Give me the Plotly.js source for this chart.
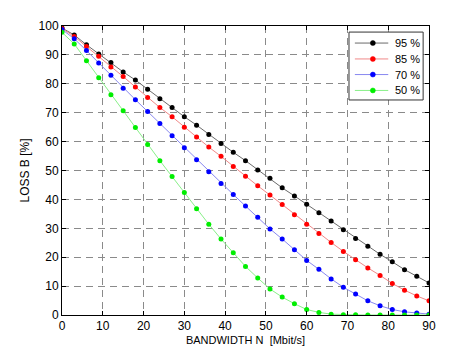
<!DOCTYPE html>
<html>
<head>
<meta charset="utf-8">
<script src="https://cdn.plot.ly/plotly-3.0.1.min.js"></script>
<style>html,body{margin:0;padding:0;background:#fff;}#chart{width:474px;height:355px;}</style>
</head>
<body>
<div id="chart"></div>
<script>
const bandwidth = [0,3,6,9,12,15,18,21,24,27,30,33,36,39,42,45,48,51,54,57,60,63,66,69,72,75,78,81,84,87,90];
const seriesNames = ["95 %","85 %","70 %","50 %"];
const loss95 = [99.3,96.9,93.5,90.3,87.4,84.1,81.3,78.1,74.8,71.8,68.6,65.7,62.5,59.3,56.3,53.4,50.2,47.3,44.0,41.2,38.3,35.4,32.5,29.5,26.5,23.8,21.0,18.4,15.7,13.4,11.1];
const loss85 = [99.1,96.4,92.9,89.5,85.8,82.5,78.9,75.3,71.8,68.6,65.0,61.6,58.1,54.9,51.4,48.0,44.7,41.5,38.2,34.7,31.4,28.2,25.1,22.0,19.1,16.3,13.7,10.9,8.6,6.6,4.9];
const loss70 = [98.8,95.6,91.5,87.2,83.0,78.5,74.5,70.4,66.3,62.0,57.9,53.7,49.6,45.5,41.7,37.7,33.8,29.8,26.3,22.6,18.9,15.8,12.5,9.6,7.3,4.9,3.2,1.9,1.1,0.7,0.3];
const loss50 = [97.8,93.8,88.0,82.1,76.2,70.7,64.9,59.0,53.4,47.9,42.4,36.8,31.4,26.3,21.5,16.8,12.8,9.0,6.2,3.9,1.9,0.9,0.3,0.1,0.05,0,0,0,0,0,0];
const lineColors = ["#6a6a6a","#f08888","#8888f0","#88f088"];
const markerColors = ["#000000","#ff0000","#0000ff","#00ee00"];
const allLoss = [loss95, loss85, loss70, loss50];

const traces = allLoss.map((ys, i) => ({
  x: bandwidth, y: ys, name: seriesNames[i], type: 'scatter', mode: 'lines+markers',
  showlegend: false,
  line: {color: lineColors[i], width: 1},
  marker: {color: markerColors[i], size: 5}
}));

// Custom legend (matching the compact MATLAB-style legend box)
const shapes = [{type: 'rect', xref: 'paper', yref: 'paper', x0: 0.782, x1: 0.984, y0: 0.744, y1: 0.979,
  line: {color: '#333', width: 1}, fillcolor: '#fff', layer: 'above'}];
const annotations = [];
const legendY = [0.941, 0.886, 0.832, 0.777];
seriesNames.forEach((nm, i) => {
  shapes.push({type: 'line', xref: 'paper', yref: 'paper', x0: 0.798, x1: 0.889, y0: legendY[i], y1: legendY[i],
    line: {color: lineColors[i], width: 1}, layer: 'above'});
  shapes.push({type: 'circle', xref: 'paper', yref: 'paper', xsizemode: 'pixel', ysizemode: 'pixel',
    xanchor: 0.847, yanchor: legendY[i], x0: -2.5, x1: 2.5, y0: -2.5, y1: 2.5,
    fillcolor: markerColors[i], line: {color: markerColors[i], width: 0.5}, layer: 'above'});
  annotations.push({xref: 'paper', yref: 'paper', x: 0.902, y: legendY[i], xanchor: 'left', yanchor: 'middle',
    text: nm, showarrow: false, font: {size: 11, color: '#000'}});
});

const axisCommon = {
  showline: true, mirror: 'ticks', linecolor: '#000', linewidth: 1,
  ticks: 'inside', ticklen: 4, tickcolor: '#000',
  showgrid: true, gridcolor: '#8a8a8a', griddash: '7px,5px', gridwidth: 1,
  zeroline: false, tickfont: {size: 12, color: '#000'}
};

const layout = {
  width: 474, height: 355,
  margin: {l: 62, r: 45, t: 26, b: 40},
  paper_bgcolor: '#fff', plot_bgcolor: '#fff',
  font: {family: '"Liberation Sans", Arial, sans-serif', size: 11, color: '#000'},
  showlegend: false,
  shapes: shapes,
  annotations: annotations,
  xaxis: Object.assign({}, axisCommon, {range: [0, 90], dtick: 10, tick0: 0,
    title: {text: 'BANDWIDTH N  [Mbit/s]', font: {size: 11}, standoff: 3}}),
  yaxis: Object.assign({}, axisCommon, {range: [0, 100], dtick: 10, tick0: 0,
    title: {text: 'LOSS B [%]', font: {size: 12}, standoff: 6}})
};

Plotly.newPlot('chart', traces, layout, {displayModeBar: false, staticPlot: true});
</script>
</body>
</html>
